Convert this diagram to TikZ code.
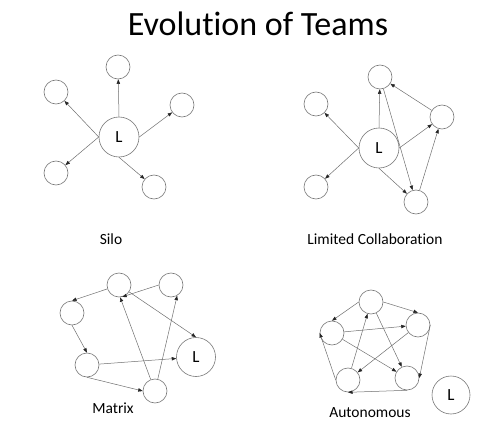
\documentclass[tikz,border=0pt]{standalone}
\usepackage{fontspec}
\setmainfont{Carlito}[Ligatures=NoCommon]
\usepackage{tikz}
\usetikzlibrary{arrows,arrows.meta}
\definecolor{linegray}{RGB}{110,110,110}
\definecolor{ringgray}{RGB}{120,120,120}

\begin{document}
\begin{tikzpicture}[x=1pt,y=-1pt,>={Triangle[length=4.5pt,width=3.4pt,color=black!85]},
  circ/.style={circle,draw=ringgray,line width=0.6pt,minimum size=24pt,inner sep=0pt},
  lead/.style={circ,minimum size=40pt,font=\fontsize{17}{17}\selectfont},
  link/.style={->,draw=linegray,line width=0.5pt},
  teamname/.style={font=\fontsize{15.5}{16}\selectfont}]
\useasboundingbox (0,0) rectangle (504,428);
\node[font=\fontsize{34}{34}\selectfont] (title) at (258,24) {Evolution of Teams};

% silo
\node[lead] (sL) at (119,137) {L};
\node[circ] (s1) at (118,67) {};
\node[circ] (s2) at (56,92) {};
\node[circ] (s3) at (182,105) {};
\node[circ] (s4) at (56,173) {};
\node[circ] (s5) at (154,187) {};
\draw[link] (sL.north) -- (s1);
\draw[link] (sL.west) -- (s2);
\draw[link] (sL.east) -- (s3);
\draw[link] (sL.west) -- (s4);
\draw[link] (sL.south) -- (s5);
\node[teamname] (silo) at (111,239) {Silo};

% limited collaboration
\node[lead] (cL) at (379,148) {L};
\node[circ] (c1) at (380,77) {};
\node[circ] (c2) at (316,104) {};
\node[circ] (c3) at (442,117) {};
\node[circ] (c4) at (316,187) {};
\node[circ] (c5) at (416,202) {};
\draw[link] (cL.north) -- (c1);
\draw[link] (cL.west) -- (c2);
\draw[link] (cL.east) -- (c3);
\draw[link] (cL.west) -- (c4);
\draw[link] (cL.south) -- (c5);
\draw[link] (c3) -- (c1);
\draw[link] (c1) -- (c5);
\draw[link] (c5) -- (c3);
\node[teamname] (collab) at (375,239) {Limited Collaboration};

% matrix
\node[circ] (m1) at (119,285) {};
\node[circ] (m2) at (171,285) {};
\node[circ] (m3) at (72,313) {};
\node[circ] (m4) at (87,365) {};
\node[circ] (m5) at (155,391) {};
\node[lead,minimum size=39pt] (mL) at (196,357) {L};
\draw[link] (m1) -- (m3.north);
\draw[link] (m3.south) -- (m4.north);
\draw[link] (m4) -- (mL);
\draw[link] (m4.south) -- (m5.west);
\draw[link] (m5) -- (m1.-85);
\draw[link] (m5) -- (m2.-60);
\draw[link] (m2.west) -- (m1.-75);
\draw[link] (m1) -- (mL.north);
\node[teamname] (matrix) at (113,408) {Matrix};

% autonomous
\node[circ] (a1) at (371,302) {};
\node[circ] (a2) at (332,333) {};
\node[circ] (a3) at (418,325) {};
\node[circ] (a4) at (348,380) {};
\node[circ] (a5) at (407,378) {};
\node[lead,minimum size=38pt] (aL) at (451,395) {L};
\draw[link] (a1.west) -- (a2.north);
\draw[link] (a1.east) -- (a3.north);
\draw[link] (a3.east) -- (a5.east);
\draw[link] (a5.south) -- (a4.south);
\draw[link] (a4.west) -- (a2.west);
\draw[link] (a2) -- (a3);
\draw[link] (a2) -- (a5);
\draw[link] (a1) -- (a5);
\draw[link] (a4) -- (a1);
\draw[link] (a3) -- (a4);
\node[teamname] (auto) at (370,413) {Autonomous};
\end{tikzpicture}
\end{document}
